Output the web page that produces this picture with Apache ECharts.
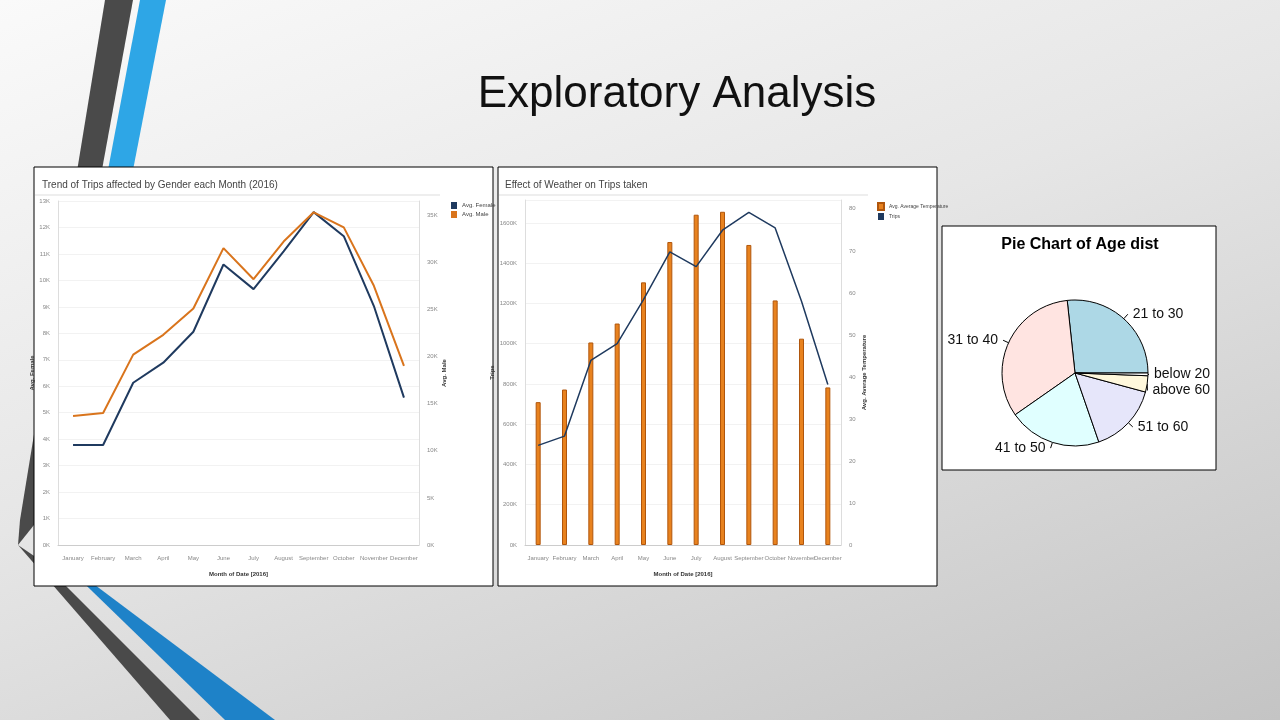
<!DOCTYPE html>
<html lang="en">
<head>
    <meta charset="UTF-8">
    <title>Exploratory Analysis</title>
    <style>
        body{ margin:0; }
        #main{
            width: 1280px;
            height: 720px;
            background: linear-gradient(160deg, #fafafa 0%, #e6e6e6 45%, #c4c4c4 100%);
        }
    </style>
</head>
<body>
    <div id="main"></div>

    <script src="https://cdn.jsdelivr.net/npm/echarts@6/dist/echarts.min.js"></script>
    <script>
        // data
        var months = ['January','February','March','April','May','June','July','August','September','October','November','December'];
        var avgFemale = [3.78, 3.78, 6.13, 6.89, 8.06, 10.6, 9.67, 11.1, 12.58, 11.67, 9.03, 5.57];   // K
        var avgMale = [13.7, 14.0, 20.2, 22.3, 25.1, 31.5, 28.2, 32.2, 35.3, 33.7, 27.5, 19.0];        // K
        var avgTemp = [34, 37, 48.2, 52.7, 62.5, 72.1, 78.6, 79.3, 71.4, 58.2, 49.1, 37.5];
        var trips = [495, 541, 917, 1001, 1219, 1456, 1383, 1564, 1653, 1575, 1211, 797];            // K
        var ageGroups = ['21 to 30', '31 to 40', '41 to 50', '51 to 60', 'above 60', 'below 20'];
        var ageShare = [26.7, 33.0, 20.6, 15.5, 3.6, 0.6];
        var ageColors = ['#add8e6', '#ffe4e1', '#e0ffff', '#e6e6fa', '#fff8dc', '#ffffff'];

        var navy = '#1f3a5f', orange = '#d9741c';
        var tick = { color: '#888', fontSize: 6, fontFamily: 'Liberation Sans' };
        var kfmt = function (v) { return Math.round(v) + 'K'; };

        var mychart = echarts.init(document.getElementById('main'));

        var option = {
            animation: false,
            title: [
                { text: 'Exploratory Analysis', left: 672, top: 68, textAlign: 'center',
                  textStyle: { fontSize: 44, fontWeight: 'normal', fontFamily: 'Liberation Sans', color: '#111' } },
                { text: 'Trend of Trips affected by Gender each Month (2016)', left: 37, top: 175,
                  textStyle: { fontSize: 10, fontWeight: 'normal', color: '#444', fontFamily: 'Liberation Sans' } },
                { text: 'Effect of Weather on Trips taken', left: 500, top: 175,
                  textStyle: { fontSize: 10, fontWeight: 'normal', color: '#444', fontFamily: 'Liberation Sans' } },
                { text: 'Pie Chart of Age dist', left: 1075, top: 232, textAlign: 'center',
                  textStyle: { fontSize: 16, fontWeight: 'bold', color: '#000', fontFamily: 'Liberation Sans' } }
            ],
            graphic: [
                // slide decoration stripes
                { type: 'polygon', shape: { points: [[105,0],[133,0],[38,520],[18,545],[20,520]] }, style: { fill: '#4a4a4a' }, z: -1 },
                { type: 'polygon', shape: { points: [[140,0],[166,0],[133,170],[108,170]] }, style: { fill: '#2ea6e6' }, z: -1 },
                { type: 'polygon', shape: { points: [[18,545],[40,560],[200,720],[170,720]] }, style: { fill: '#4a4a4a' }, z: -1 },
                { type: 'polygon', shape: { points: [[60,560],[95,585],[275,720],[225,720]] }, style: { fill: '#1e82c8' }, z: -1 },
                // panels
                { type: 'rect', shape: { x: 34, y: 167, width: 459, height: 419 }, style: { fill: '#fff', stroke: '#000', lineWidth: 1 }, z: 0 },
                { type: 'rect', shape: { x: 498, y: 167, width: 439, height: 419 }, style: { fill: '#fff', stroke: '#000', lineWidth: 1 }, z: 0 },
                { type: 'rect', shape: { x: 942, y: 226, width: 274, height: 244 }, style: { fill: '#fff', stroke: '#000', lineWidth: 1 }, z: 0 },
                { type: 'line', shape: { x1: 35, y1: 195, x2: 440, y2: 195 }, style: { stroke: '#ddd' }, z: 1 },
                { type: 'line', shape: { x1: 499, y1: 195, x2: 868, y2: 195 }, style: { stroke: '#ddd' }, z: 1 }
            ],
            legend: [
                { data: ['Avg. Female', 'Avg. Male'], orient: 'vertical', left: 446, top: 197, itemWidth: 6, itemHeight: 7, itemGap: 2,
                  icon: 'rect', textStyle: { fontSize: 6, color: '#444' } },
                { data: ['Avg. Average Temperature', 'Trips'], orient: 'vertical', left: 872, top: 197, itemWidth: 6, itemHeight: 7, itemGap: 2,
                  icon: 'rect', textStyle: { fontSize: 5, color: '#444' } }
            ],
            grid: [
                { left: 58, right: 1280 - 419, top: 201, bottom: 720 - 545 },
                { left: 525, right: 1280 - 841, top: 200, bottom: 720 - 545 }
            ],
            xAxis: [
                { type: 'category', data: months, gridIndex: 0, axisTick: { show: false },
                  axisLine: { lineStyle: { color: '#ccc' } }, axisLabel: Object.assign({ margin: 10, interval: 0 }, tick),
                  name: 'Month of Date [2016]', nameLocation: 'middle', nameGap: 26, nameTextStyle: { fontSize: 6, color: '#333', fontWeight: 'bold' } },
                { type: 'category', data: months, gridIndex: 1, axisTick: { show: false },
                  axisLine: { lineStyle: { color: '#ccc' } }, axisLabel: Object.assign({ margin: 10, interval: 0 }, tick),
                  name: 'Month of Date [2016]', nameLocation: 'middle', nameGap: 26, nameTextStyle: { fontSize: 6, color: '#333', fontWeight: 'bold' } }
            ],
            yAxis: [
                { type: 'value', gridIndex: 0, min: 0, max: 13, interval: 1, axisLabel: Object.assign({ formatter: kfmt }, tick),
                  axisLine: { show: true, lineStyle: { color: '#ddd' } }, splitLine: { lineStyle: { color: '#f2f2f2' } },
                  name: 'Avg. Female', nameLocation: 'middle', nameGap: 16, nameTextStyle: { fontSize: 6, color: '#333', fontWeight: 'bold' } },
                { type: 'value', gridIndex: 0, position: 'right', min: 0, max: 36.5, interval: 5,
                  axisLabel: Object.assign({ formatter: kfmt, showMaxLabel: false }, tick),
                  axisLine: { show: true, lineStyle: { color: '#ddd' } }, splitLine: { show: false },
                  name: 'Avg. Male', nameLocation: 'middle', nameGap: 20, nameTextStyle: { fontSize: 6, color: '#333', fontWeight: 'bold' } },
                { type: 'value', gridIndex: 1, min: 0, max: 1714, interval: 200, axisLabel: Object.assign({ formatter: kfmt, showMaxLabel: false }, tick),
                  axisLine: { show: true, lineStyle: { color: '#ddd' } }, splitLine: { lineStyle: { color: '#f2f2f2' } },
                  name: 'Trips', nameLocation: 'middle', nameGap: 21, nameTextStyle: { fontSize: 6, color: '#333', fontWeight: 'bold' } },
                { type: 'value', gridIndex: 1, position: 'right', min: 0, max: 82.1, interval: 10,
                  axisLabel: Object.assign({ showMaxLabel: false }, tick),
                  axisLine: { show: true, lineStyle: { color: '#ddd' } }, splitLine: { show: false },
                  name: 'Avg. Average Temperature', nameLocation: 'middle', nameGap: 20, nameTextStyle: { fontSize: 6, color: '#333', fontWeight: 'bold' } }
            ],
            series: [
                { name: 'Avg. Female', type: 'line', xAxisIndex: 0, yAxisIndex: 0, data: avgFemale,
                  symbol: 'none', lineStyle: { color: navy, width: 2 }, itemStyle: { color: navy } },
                { name: 'Avg. Male', type: 'line', xAxisIndex: 0, yAxisIndex: 1, data: avgMale,
                  symbol: 'none', lineStyle: { color: orange, width: 2 }, itemStyle: { color: orange } },
                { name: 'Avg. Average Temperature', type: 'bar', xAxisIndex: 1, yAxisIndex: 3, data: avgTemp,
                  barWidth: 5, itemStyle: { color: '#e8821e', borderColor: '#b0560c', borderWidth: 1 } },
                { name: 'Trips', type: 'line', xAxisIndex: 1, yAxisIndex: 2, data: trips, z: 5,
                  symbol: 'none', lineStyle: { color: navy, width: 1.5 }, itemStyle: { color: navy } },
                { name: 'Age', type: 'pie', center: [1075, 373], radius: 73, startAngle: 0, clockwise: false,
                  data: ageGroups.map(function (g, i) { return { name: g, value: ageShare[i], itemStyle: { color: ageColors[i] } }; }),
                  itemStyle: { borderColor: '#000', borderWidth: 1 },
                  label: { color: '#111', fontSize: 14, fontFamily: 'Liberation Sans' },
                  labelLine: { length: 6, length2: 0, lineStyle: { color: '#000' } } }
            ]
        };
        option && mychart.setOption(option);
    </script>
</body>
</html>
